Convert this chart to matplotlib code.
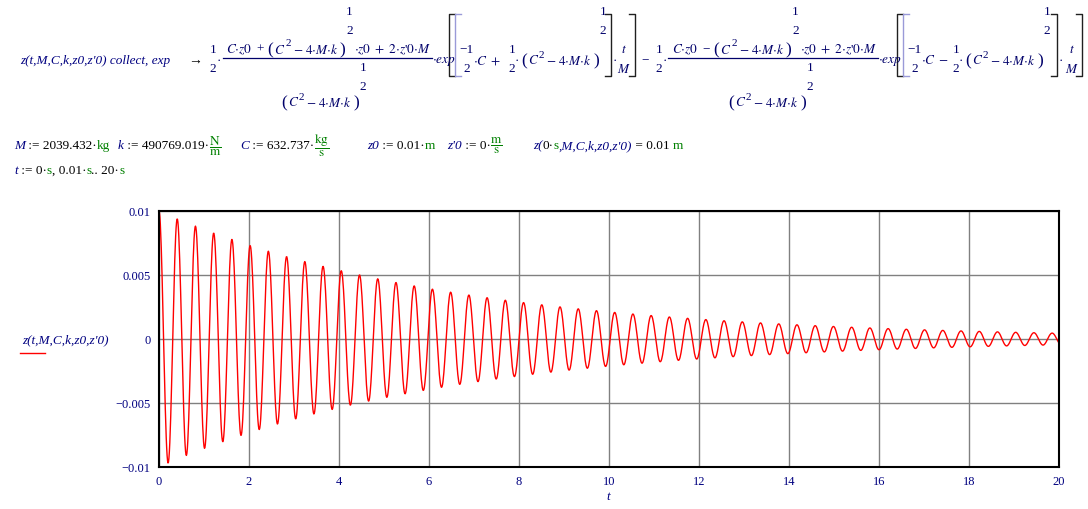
import numpy as np
import matplotlib.pyplot as plt

# parameters as defined in the worksheet
M = 2039.432      # kg
k = 490769.019    # N/m
C = 632.737       # kg/s
z0 = 0.01         # m
zd0 = 0.0         # m/s
t_start, t_step, t_end = 0.0, 0.01, 20.0

x_ticks = [0, 2, 4, 6, 8, 10, 12, 14, 16, 18, 20]
y_ticks = [-0.01, -0.005, 0, 0.005, 0.01]
y_tick_labels = ['\u22120.01', '\u22120.005', '0', '0.005', '0.01']

# symbolic result from the sheet: z(t,M,C,k,z0,z'0) collect, exp
t = np.arange(t_start, t_end + t_step / 2, t_step)
D = np.sqrt(complex(C**2 - 4 * M * k))
z = (0.5 * (C * z0 + D * z0 + 2 * zd0 * M) / D * np.exp((-0.5 * C + 0.5 * D) * t / M)
     - 0.5 * (C * z0 - D * z0 + 2 * zd0 * M) / D * np.exp((-0.5 * C - 0.5 * D) * t / M)).real

plt.rcParams['mathtext.fontset'] = 'stix'
plt.rcParams['font.family'] = ['Liberation Serif', 'DejaVu Serif']

W, H = 1088, 510
fig = plt.figure(figsize=(W / 100, H / 100), dpi=100)
renderer = fig.canvas.get_renderer()
NAVY = '#000080'
INK = '#00006a'
GREEN = '#008000'
FS = 9.5


def put(x, y, s, color=INK, size=FS, ha='left', **kw):
    return fig.text(x / W, 1 - y / H, s, color=color, fontsize=size, ha=ha, va='center', **kw)


def width(tx):
    return tx.get_window_extent(renderer).width


def hline(x0, x1, y, color=INK, lw=0.9):
    fig.add_artist(plt.Line2D([x0 / W, x1 / W], [1 - y / H, 1 - y / H], color=color, lw=lw))


def bracket(x, y0, y1, side=1, color='#202020'):
    # side=1 opening "[", side=-1 closing "]"
    xs = [x + 6 * side, x, x, x + 6 * side]
    ys = [y0, y0, y1, y1]
    fig.add_artist(plt.Line2D([v / W for v in xs], [1 - v / H for v in ys], color=color, lw=1))


def small_frac(xc, top, bot='2'):
    put(xc, 50, top, ha='center')
    put(xc, 69, bot, ha='center')


def root(x, y, ye1, ye2):
    # (C^2 - 4·M·k)^(1/2), returns right edge
    x += width(put(x, y, "(", size=12.5)) + 1
    x += width(put(x, y, "$C$"))
    x += width(put(x, y - 6, "2", size=8)) + 2
    x += width(put(x, y, r"$-\ 4{\cdot}M{\cdot}k$")) + 1
    x += width(put(x, y, ")", size=12.5)) + 1
    put(x + 3, ye1, "1", ha='center')
    put(x + 3, ye2, "2", ha='center')
    return x + 8


def numerator(x, y, sign):
    x += width(put(x, y, r"$C{\cdot}\mathit{z0}$")) + 4
    x += width(put(x, y, sign)) + 4
    x = root(x, y, 12, 31)
    x += width(put(x, y, r"${\cdot}\mathit{z0}\ +\ 2{\cdot}\mathit{z}$'$\mathit{0}{\cdot}M$"))
    return x


# header formula
put(20, 61, "z(t,M,C,k,z0,z'0) collect, exp", NAVY, 9.5, style='italic')
put(188, 60, "\u2192", 'black', 10)

# first term
small_frac(213, "1")
put(217, 61, "\u00b7")
xe = numerator(226, 50, "+")
hline(223, xe + 1, 59)
root(281, 103, 68, 87)
put(xe + 1, 61, r"${\cdot}exp$")
bracket(449, 15, 77)
bracket(455, 15, 77, color='#9a9ad8')
small_frac(467, "\u22121")
put(473, 61, r"${\cdot}C\ +$")
small_frac(512, "1")
put(515, 61, "\u00b7")
root(521, 61, 12, 31)
bracket(611, 15, 77, -1)
put(613, 61, "\u00b7")
put(624, 50, "$t$", ha='center')
put(624, 70, "$M$", ha='center')
bracket(635, 15, 77, -1)
put(645, 61, "\u2212", ha='center')

# second term
small_frac(659, "1")
put(663, 61, "\u00b7")
xe = numerator(672, 50, "\u2212")
hline(668, xe + 1, 59)
root(728, 103, 68, 87)
put(xe + 1, 61, r"${\cdot}exp$")
bracket(897, 15, 77)
bracket(903, 15, 77, color='#9a9ad8')
small_frac(915, "\u22121")
put(921, 61, r"${\cdot}C\ -$")
small_frac(956, "1")
put(959, 61, "\u00b7")
root(965, 61, 12, 31)
bracket(1057, 15, 77, -1)
put(1059, 61, "\u00b7")
put(1072, 50, "$t$", ha='center')
put(1072, 70, "$M$", ha='center')
bracket(1082, 15, 77, -1)


def run(x, y, pieces, size=9.5):
    # place coloured pieces one after another
    for s, color in pieces:
        italic = color == NAVY and not s.startswith('$')
        x += width(put(x, y, s, color, size, style='italic' if italic else 'normal'))
    return x


# definitions
run(14, 146, [("M", NAVY), (" := 2039.432\u00b7", 'black'), ("kg", GREEN)])
run(118, 146, [("k", NAVY), (" := 490769.019\u00b7", 'black'), (r"$\dfrac{\mathrm{N}}{\mathrm{m}}$", GREEN)])
run(240, 146, [("C", NAVY), (" := 632.737\u00b7", 'black'), (r"$\dfrac{\mathrm{kg}}{\mathrm{s}}$", GREEN)])
run(367, 146, [("z0", NAVY), (" := 0.01\u00b7", 'black'), ("m", GREEN)])
run(447, 146, [("z'0", NAVY), (" := 0\u00b7", 'black'), (r"$\dfrac{\mathrm{m}}{\mathrm{s}}$", GREEN)])
run(533, 146, [("z(", NAVY), ("0\u00b7", 'black'), ("s", GREEN), (",M,C,k,z0,z'0)", NAVY),
               (" = 0.01 ", 'black'), ("m", GREEN)])
run(14, 171, [("t", NAVY), (" := 0\u00b7", 'black'), ("s", GREEN), (", 0.01\u00b7", 'black'), ("s", GREEN),
              (".. 20\u00b7", 'black'), ("s", GREEN)])

# plot
ax = fig.add_axes([159 / W, 1 - 468 / H, 900 / W, 256 / H])
ax.plot(t, z, color='red', lw=1)
ax.set_xlim(0, 20)
ax.set_ylim(-0.01, 0.01)
ax.set_xticks(x_ticks)
ax.set_xticklabels([str(v) for v in x_ticks])
ax.set_yticks(y_ticks)
ax.set_yticklabels(y_tick_labels)
ax.grid(True, color='#808080', lw=1)
ax.tick_params(length=0, labelcolor=NAVY, labelsize=9, pad=6)
for s in ax.spines.values():
    s.set_linewidth(1.5)

put(22, 340, "z(t,M,C,k,z0,z'0)", NAVY, 9.5, style='italic')
hline(20, 45, 354, 'red', 1)
put(608, 497, "t", NAVY, 9.5, ha='center', style='italic')

fig.savefig('out.png', dpi=100)
